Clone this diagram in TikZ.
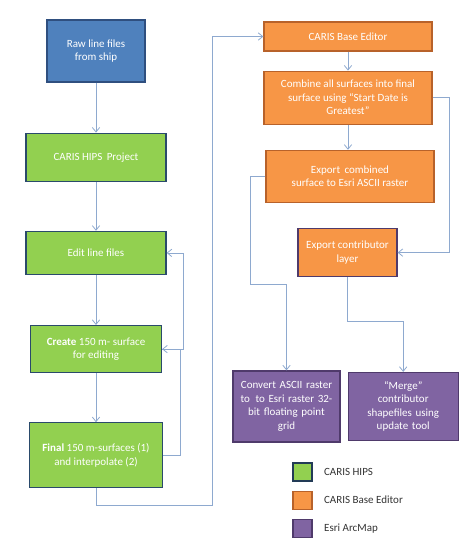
\documentclass[tikz,border=0pt]{standalone}
\usepackage{fontspec}
\setmainfont{Carlito}
\usepackage{xcolor}
\usetikzlibrary{arrows.meta,positioning,calc}

\definecolor{rawblue}{HTML}{4F81BD}
\definecolor{rawedge}{HTML}{2F4F7F}
\definecolor{hipsgreen}{HTML}{92D050}
\definecolor{hipsedge}{HTML}{2A4A6B}
\definecolor{beorange}{HTML}{F79646}
\definecolor{beedge}{HTML}{B8622A}
\definecolor{arcpurple}{HTML}{8064A2}
\definecolor{arcedge}{HTML}{4F3A6B}
\definecolor{linkblue}{HTML}{8EA9CF}

\begin{document}
\begin{tikzpicture}[x=1pt, y=1pt,
    stage/.style={draw, line width=1.2pt, align=center, inner sep=2pt,
      text=white, font=\fontsize{11}{13.5}\selectfont},
    raw/.style={stage, fill=rawblue, draw=rawedge},
    hips/.style={stage, fill=hipsgreen, draw=hipsedge},
    base/.style={stage, fill=beorange, draw=beedge},
    arc/.style={stage, fill=arcpurple, draw=arcedge},
    legbox/.style={draw, line width=1.2pt, minimum width=19pt, minimum height=18pt, inner sep=0pt},
    legtext/.style={text=black!80, font=\fontsize{11}{13.5}\selectfont},
    arr/.style={-{Straight Barb[length=1.6mm, width=2.6mm]}, draw=linkblue, line width=0.8pt}
  ]
    \useasboundingbox (0,0) rectangle (474,-547);

    % left column: CARIS HIPS
    \node[raw, minimum width=98pt, minimum height=62pt] (rawfiles) at (96,-51) {Raw line files\\from ship};
    \node[hips, minimum width=140pt, minimum height=48pt, below=50pt of rawfiles] (project) {CARIS HIPS\, Project};
    \node[hips, minimum width=140pt, minimum height=43pt, below=49pt of project] (edit) {Edit line files};
    \node[hips, minimum width=131pt, minimum height=47pt, below=50pt of edit] (create) {\textbf{Create} 150 m- surface\\for editing};
    \node[hips, minimum width=133pt, minimum height=65pt, below=49pt of create] (final) {\textbf{Final} 150 m-surfaces (1)\\and interpolate (2)};

    % right column: CARIS Base Editor
    \node[base, minimum width=168pt, minimum height=29pt] (editor) at (348,-36.5) {CARIS Base Editor};
    \node[base, minimum width=168pt, minimum height=53pt, below=19pt of editor] (combine) {Combine all surfaces into final\\surface using \textquotedblleft Start Date is\\Greatest\textquotedblright};
    \node[base, minimum width=168pt, minimum height=52pt, below=25pt of combine, xshift=2pt] (export) {Export\, combined\\surface to Esri ASCII raster};
    \node[base, draw=arcedge, minimum width=99pt, minimum height=48pt, below=25pt of export, xshift=-2.5pt] (contrib) {Export contributor\\layer};

    % Esri ArcMap
    \node[arc, text width=103pt, minimum width=107pt, minimum height=71pt] (convert) at (286.5,-406.5) {Convert ASCII raster\\to\, to Esri raster 32-\\bit floating point\\grid};
    \node[arc, text width=104pt, minimum width=110pt, minimum height=68pt, right=7pt of convert] (merge) {\textquotedblleft Merge\textquotedblright\\contributor\\shapefiles using\\update tool};

    % legend
    \node[legbox, fill=hipsgreen, draw=hipsedge!80!black] (keyhips) at (302.5,-472) {};
    \node[legbox, fill=beorange, draw=beedge, below=9pt of keyhips] (keybase) {};
    \node[legbox, fill=arcpurple, draw=arcedge, below=9pt of keybase] (keyarc) {};
    \node[legtext, right=8pt of keyhips] (labhips) {CARIS HIPS};
    \node[legtext, right=8pt of keybase] (labbase) {CARIS Base Editor};
    \node[legtext, right=8pt of keyarc] (labarc) {Esri ArcMap};

    % connectors
    \draw[arr] (rawfiles) -- (project);
    \draw[arr] (project) -- (edit);
    \draw[arr] (edit) -- (create);
    \draw[arr] (create) -- (final);
    \draw[arr] (create.east) -- ++(21pt,0) |- (edit.east);
    \draw[arr] (final.east) -- ++(17pt,0) |- (create.east);
    \draw[arr] (final.south) -- ++(0,-17pt) -| ($(editor.west)+(-51pt,0)$) -- (editor.west);
    \draw[arr] (editor) -- (combine);
    \draw[arr] (combine.south) -- (combine.south |- export.north);
    \draw[arr] (combine.east) -- ++(17pt,0) |- (contrib.east);
    \draw[arr] (export.west) -- ++(-15pt,0) |- ([yshift=86pt]convert.north) -- (convert.north);
    \draw[arr] (contrib.south) |- ([yshift=51pt]merge.north) -- (merge.north);
\end{tikzpicture}
\end{document}
